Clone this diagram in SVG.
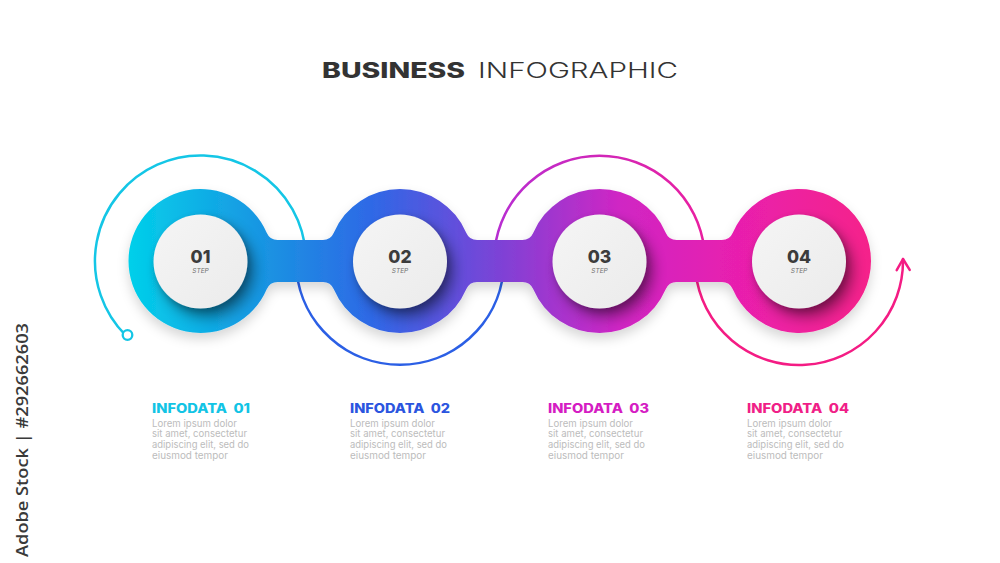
<svg xmlns="http://www.w3.org/2000/svg" width="1000" height="563" viewBox="0 0 1000 563">
<defs>
<style>
.title{font-family:Inter,"Liberation Sans",sans-serif;fill:#333333}
.num{font-family:Inter,"DejaVu Sans",sans-serif;font-weight:800;font-size:17.5px;fill:#3c3c3c;text-anchor:middle}
.step{font-family:Inter,"Liberation Sans",sans-serif;font-style:italic;font-size:6.5px;fill:#6f6f6f;text-anchor:middle}
.head{font-family:Inter,"Liberation Sans",sans-serif;font-weight:800;font-size:12.5px;white-space:pre}
.body{font-family:Inter,"Liberation Sans",sans-serif;font-size:10px;fill:#bcbcbc}
.arc{fill:none;stroke-width:2.5;stroke-linecap:round}
.inner{fill:url(#white)}
</style>
<linearGradient id="chain" gradientUnits="userSpaceOnUse" x1="128" y1="0" x2="871" y2="0">
<stop offset="0" stop-color="#02d0ea"/>
<stop offset="0.19" stop-color="#1a92e2"/>
<stop offset="0.33" stop-color="#2f68e6"/>
<stop offset="0.5" stop-color="#7d42d6"/>
<stop offset="0.66" stop-color="#cf26c4"/>
<stop offset="0.82" stop-color="#e81fae"/>
<stop offset="1" stop-color="#f5238a"/>
</linearGradient>
<linearGradient id="white" x1="0" y1="0" x2="1" y2="1">
<stop offset="0" stop-color="#f5f5f5"/>
<stop offset="1" stop-color="#ebebeb"/>
</linearGradient>
<linearGradient id="arc3g" gradientUnits="userSpaceOnUse" x1="494" y1="0" x2="705" y2="0">
<stop offset="0" stop-color="#b72ed2"/>
<stop offset="1" stop-color="#ea1fa0"/>
</linearGradient>
<filter id="drop" x="-10%" y="-30%" width="120%" height="170%">
<feDropShadow dx="0" dy="6" stdDeviation="6" flood-color="#000" flood-opacity="0.16"/>
</filter>
<filter id="blur" x="-50%" y="-50%" width="200%" height="200%">
<feGaussianBlur stdDeviation="7"/>
</filter>
<filter id="soft" x="-50%" y="-50%" width="200%" height="200%">
<feDropShadow dx="2" dy="3" stdDeviation="3" flood-color="#000" flood-opacity="0.18"/>
</filter>
<clipPath id="chainClip">
<path id="chainPath" d="M128.5,261 A72,72 0 0 1 266.7,232.7 A12,12 0 0 0 277.7,240 L322.8,240 A12,12 0 0 0 333.8,232.7 A72,72 0 0 1 466.2,232.7 A12,12 0 0 0 477.2,240 L522.3,240 A12,12 0 0 0 533.3,232.7 A72,72 0 0 1 665.7,232.7 A12,12 0 0 0 676.7,240 L721.8,240 A12,12 0 0 0 732.8,232.7 A72,72 0 1 1 732.8,289.3 A12,12 0 0 0 721.8,282 L676.7,282 A12,12 0 0 0 665.7,289.3 A72,72 0 0 1 533.3,289.3 A12,12 0 0 0 522.3,282 L477.2,282 A12,12 0 0 0 466.2,289.3 A72,72 0 0 1 333.8,289.3 A12,12 0 0 0 322.8,282 L277.7,282 A12,12 0 0 0 266.7,289.3 A72,72 0 0 1 128.5,261 Z"/>
</clipPath>
<marker id="arrow" markerUnits="userSpaceOnUse" viewBox="-14 -9 18 18" markerWidth="18" markerHeight="18" refX="0" refY="0" orient="auto">
<path d="M-11,-6.5 L0,0 L-11,6.5" fill="none" stroke="#f41c84" stroke-width="2.5" stroke-linecap="round" stroke-linejoin="round"/>
</marker>
</defs>
<rect width="1000" height="563" fill="#ffffff"/>

<g id="title">
<text class="title" x="322" y="78" font-size="21" font-weight="800" textLength="143" lengthAdjust="spacingAndGlyphs">BUSINESS</text>
<text class="title" x="478" y="78" font-size="21" font-weight="300" textLength="200" lengthAdjust="spacingAndGlyphs">INFOGRAPHIC</text>
</g>

<g id="connectors">
<path class="arc" d="M125.9,335.6 A105.5,105.5 0 1 1 305.8,255" stroke="#14c6e6"/>
<circle cx="127.5" cy="335" r="4.8" fill="#ffffff" stroke="#14c6e6" stroke-width="2.3"/>
<path class="arc" d="M296.6,272 A104,104 0 0 0 503.4,272" stroke="#2b5fe5"/>
<path class="arc" d="M494.6,250 A105.5,105.5 0 0 1 704.4,250" stroke="url(#arc3g)"/>
<path class="arc" d="M695.6,272 A104,104 0 0 0 903,259" stroke="#f41c84" marker-end="url(#arrow)"/>
</g>

<g id="chain">
<g filter="url(#drop)">
<use href="#chainPath" fill="url(#chain)"/>
</g>
<g clip-path="url(#chainClip)" opacity="0.42">
<circle cx="207" cy="270" r="47" fill="#000" filter="url(#blur)"/>
<circle cx="406.5" cy="270" r="47" fill="#000" filter="url(#blur)"/>
<circle cx="606" cy="270" r="47" fill="#000" filter="url(#blur)"/>
<circle cx="805.5" cy="270" r="47" fill="#000" filter="url(#blur)"/>
</g>
</g>

<g id="step1">
<circle class="inner" cx="200.5" cy="261.5" r="47" filter="url(#soft)"/>
<text class="num" x="200.5" y="262.5">01</text>
<text class="step" x="200.5" y="273">STEP</text>
<text class="head" x="152" y="412.5" fill="#12c4e5" textLength="98" lengthAdjust="spacingAndGlyphs">INFODATA  01</text>
<text class="body" x="152" y="426.5" textLength="85" lengthAdjust="spacingAndGlyphs">Lorem ipsum dolor</text>
<text class="body" x="152" y="437.3" textLength="95" lengthAdjust="spacingAndGlyphs">sit amet, consectetur</text>
<text class="body" x="152" y="448" textLength="97" lengthAdjust="spacingAndGlyphs">adipiscing elit, sed do</text>
<text class="body" x="152" y="458.5" textLength="76" lengthAdjust="spacingAndGlyphs">eiusmod tempor</text>
</g>

<g id="step2">
<circle class="inner" cx="400" cy="261.5" r="47" filter="url(#soft)"/>
<text class="num" x="400" y="262.5">02</text>
<text class="step" x="400" y="273">STEP</text>
<text class="head" x="350" y="412.5" fill="#2b55df" textLength="100" lengthAdjust="spacingAndGlyphs">INFODATA  02</text>
<text class="body" x="350" y="426.5" textLength="85" lengthAdjust="spacingAndGlyphs">Lorem ipsum dolor</text>
<text class="body" x="350" y="437.3" textLength="95" lengthAdjust="spacingAndGlyphs">sit amet, consectetur</text>
<text class="body" x="350" y="448" textLength="97" lengthAdjust="spacingAndGlyphs">adipiscing elit, sed do</text>
<text class="body" x="350" y="458.5" textLength="76" lengthAdjust="spacingAndGlyphs">eiusmod tempor</text>
</g>

<g id="step3">
<circle class="inner" cx="599.5" cy="261.5" r="47" filter="url(#soft)"/>
<text class="num" x="599.5" y="262.5">03</text>
<text class="step" x="599.5" y="273">STEP</text>
<text class="head" x="548" y="412.5" fill="#d51cc3" textLength="101" lengthAdjust="spacingAndGlyphs">INFODATA  03</text>
<text class="body" x="548" y="426.5" textLength="85" lengthAdjust="spacingAndGlyphs">Lorem ipsum dolor</text>
<text class="body" x="548" y="437.3" textLength="95" lengthAdjust="spacingAndGlyphs">sit amet, consectetur</text>
<text class="body" x="548" y="448" textLength="97" lengthAdjust="spacingAndGlyphs">adipiscing elit, sed do</text>
<text class="body" x="548" y="458.5" textLength="76" lengthAdjust="spacingAndGlyphs">eiusmod tempor</text>
</g>

<g id="step4">
<circle class="inner" cx="799" cy="261.5" r="47" filter="url(#soft)"/>
<text class="num" x="799" y="262.5">04</text>
<text class="step" x="799" y="273">STEP</text>
<text class="head" x="747" y="412.5" fill="#f01f88" textLength="102" lengthAdjust="spacingAndGlyphs">INFODATA  04</text>
<text class="body" x="747" y="426.5" textLength="85" lengthAdjust="spacingAndGlyphs">Lorem ipsum dolor</text>
<text class="body" x="747" y="437.3" textLength="95" lengthAdjust="spacingAndGlyphs">sit amet, consectetur</text>
<text class="body" x="747" y="448" textLength="97" lengthAdjust="spacingAndGlyphs">adipiscing elit, sed do</text>
<text class="body" x="747" y="458.5" textLength="76" lengthAdjust="spacingAndGlyphs">eiusmod tempor</text>
</g>

<g id="credit">
<text transform="translate(28,557) rotate(-90)" x="0" y="0" font-family="'Open Sans','DejaVu Sans',sans-serif" font-weight="600" font-size="17" fill="#3a3a3a" textLength="234" lengthAdjust="spacingAndGlyphs">Adobe Stock | #292662603</text>
</g>
</svg>
